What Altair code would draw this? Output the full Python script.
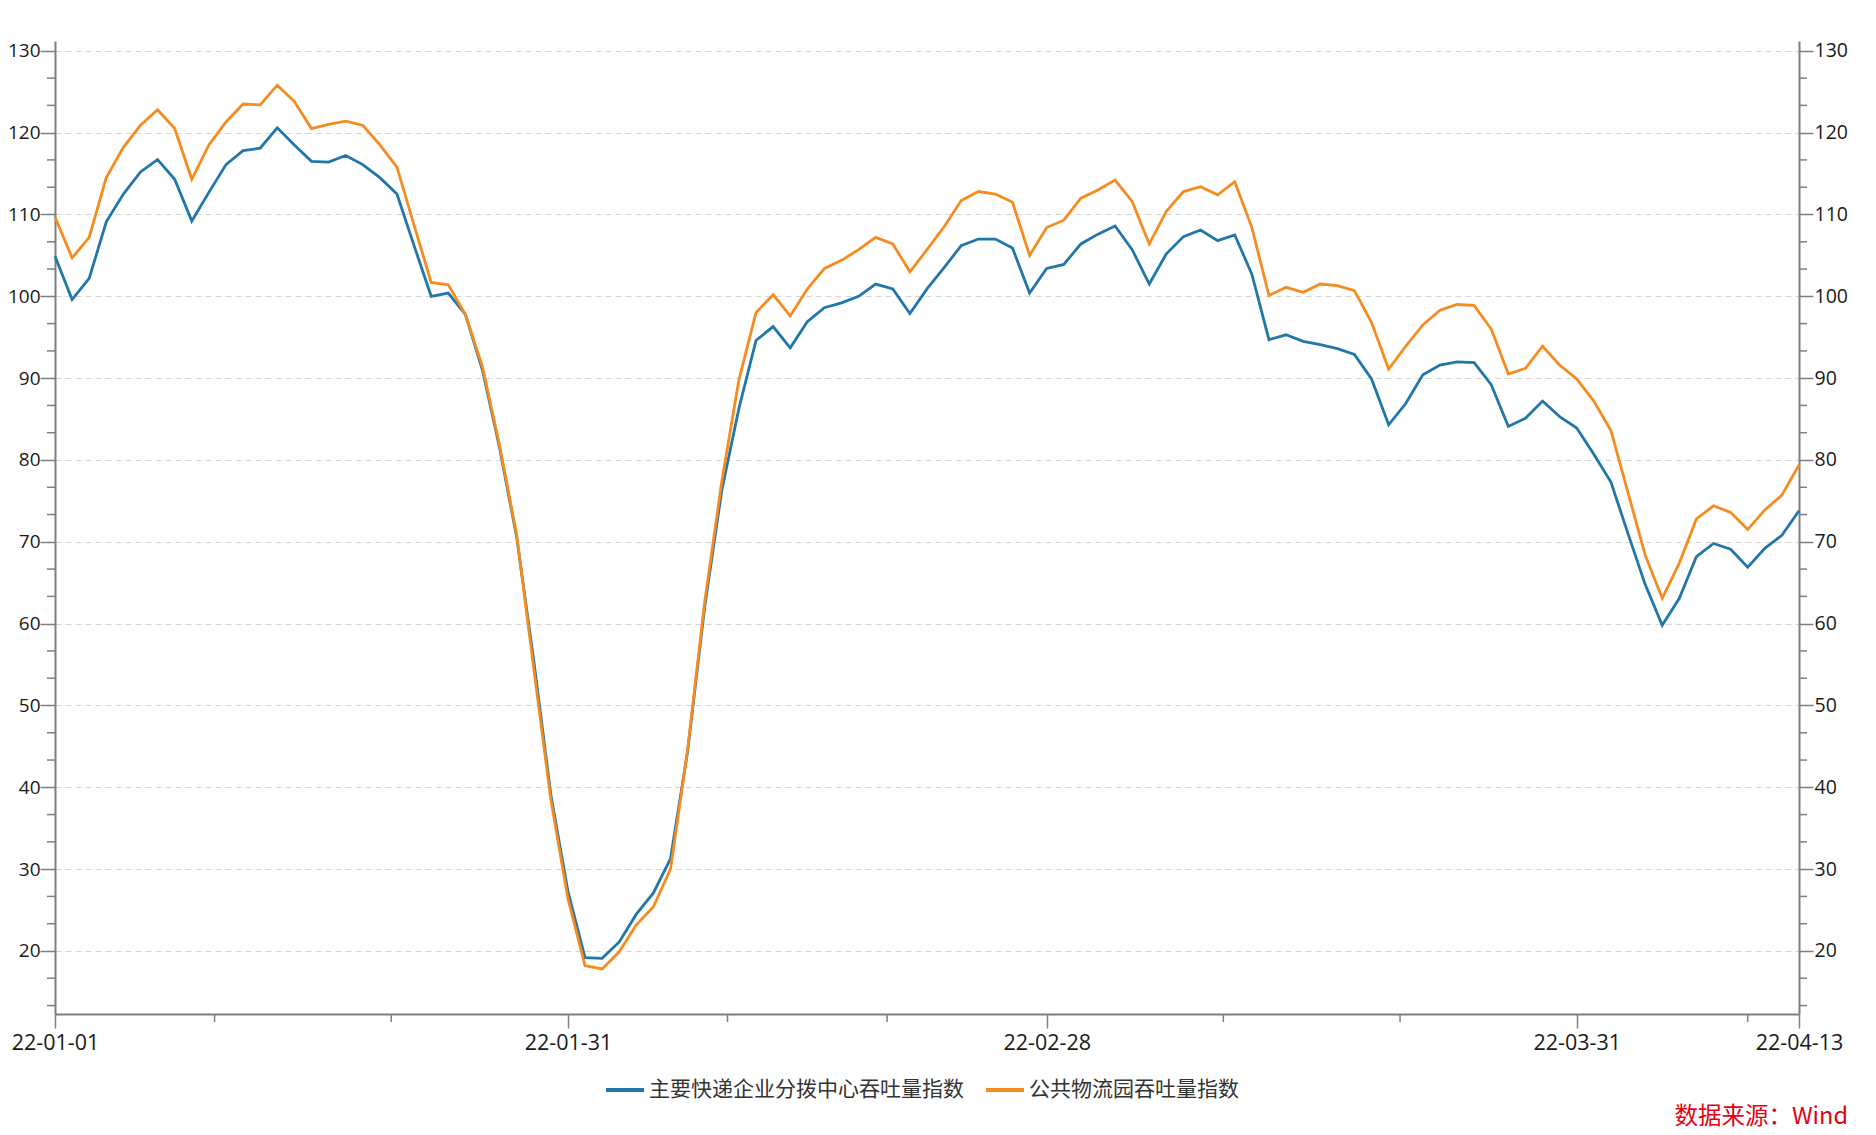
import altair as alt
import pandas as pd

# ---------------- data ----------------
dates = pd.date_range("2022-01-01", "2022-04-13", freq="D")
series_names = ["主要快递企业分拨中心吞吐量指数", "公共物流园吞吐量指数"]
series_colors = ["#2077a8", "#f68b1f"]

express_index = [
    104.9, 99.6, 102.2, 109.1, 112.5, 115.2, 116.7, 114.3, 109.2, 112.7,
    116.1, 117.8, 118.1, 120.6, 118.5, 116.5, 116.4, 117.2, 116.1, 114.5,
    112.5, 106.2, 100.0, 100.4, 97.8, 91.0, 81.5, 70.6, 55.5, 39.1,
    27.3, 19.2, 19.1, 21.1, 24.5, 27.1, 31.3, 44.4, 62.1, 76.3,
    86.3, 94.6, 96.3, 93.7, 96.9, 98.6, 99.2, 100.0, 101.5, 100.9,
    97.9, 100.9, 103.5, 106.2, 107.0, 107.0, 105.9, 100.4, 103.4, 103.9,
    106.4, 107.6, 108.6, 105.7, 101.5, 105.2, 107.3, 108.1, 106.8, 107.5,
    102.7, 94.7, 95.3, 94.5, 94.1, 93.6, 92.9, 89.9, 84.3, 86.9,
    90.4, 91.6, 92.0, 91.9, 89.2, 84.1, 85.1, 87.2, 85.3, 83.9,
    80.7, 77.3, 71.0, 64.8, 59.8, 63.1, 68.2, 69.8, 69.1, 66.9,
    69.2, 70.8, 73.8,
]
park_index = [
    109.7, 104.7, 107.2, 114.5, 118.2, 120.9, 122.8, 120.5, 114.3, 118.5,
    121.3, 123.5, 123.4, 125.8, 123.8, 120.5, 121.0, 121.4, 120.9, 118.5,
    115.8, 108.7, 101.7, 101.4, 97.8, 91.4, 81.8, 70.9, 54.5, 38.5,
    26.4, 18.2, 17.8, 19.9, 23.2, 25.4, 30.0, 44.6, 62.7, 77.4,
    89.8, 98.0, 100.2, 97.6, 100.9, 103.4, 104.4, 105.7, 107.2, 106.4,
    103.0, 105.7, 108.5, 111.7, 112.8, 112.5, 111.5, 105.0, 108.4, 109.3,
    112.0, 113.0, 114.2, 111.6, 106.4, 110.4, 112.8, 113.4, 112.4, 114.0,
    108.4, 100.1, 101.1, 100.5, 101.5, 101.3, 100.7, 96.8, 91.1, 93.9,
    96.5, 98.3, 99.0, 98.9, 96.0, 90.5, 91.2, 93.9, 91.6, 89.9,
    87.2, 83.6, 76.0, 68.4, 63.1, 67.4, 72.8, 74.4, 73.6, 71.5,
    73.9, 75.7, 79.4,
]

x_label_days = [0, 30, 58, 89, 102]
x_label_texts = ["22-01-01", "22-01-31", "22-02-28", "22-03-31", "22-04-13"]
x_minor_days = [9.333, 19.667, 39.333, 48.667, 68.333, 78.667, 99.0]
y_major = [20, 30, 40, 50, 60, 70, 80, 90, 100, 110, 120, 130]
y_minor = [13.333, 16.667] + [round(v + d, 3) for v in y_major[:-1] for d in (3.333, 6.667)]
source_text = "数据来源：Wind"

# ---------------- layout ----------------
W, H = 1744, 973
AX = "#7f7f7f"
LBL = "#1a1a1a"
NUM_FONT = "Open Sans"
CJK_FONT = "Noto Sans CJK SC"

day_index = [(d - dates[0]).days for d in dates]
df = pd.DataFrame({
    "day": day_index * 2,
    "value": express_index + park_index,
    "series": [series_names[0]] * len(day_index) + [series_names[1]] * len(day_index),
})

label_expr = "".join(
    f"datum.value == {d} ? '{t}' : " for d, t in zip(x_label_days, x_label_texts)
) + "''"

xscale = alt.Scale(domain=[0, 102], nice=False, zero=False)
yscale = alt.Scale(domain=[12.3, 131.2], nice=False, zero=False)

x_axis = alt.Axis(
    values=x_label_days, labelExpr=label_expr, tickSize=14, labelPadding=4,
    grid=False, labelFont=NUM_FONT, labelFontSize=21.5, labelColor=LBL,
    domainColor=AX, domainWidth=2, tickColor=AX, tickWidth=1.5,
    labelFlush=False, labelOverlap=False, labelBound=False,
)
left_axis = alt.Axis(
    orient="left", values=y_major, format="d", tickSize=15, labelPadding=0,
    grid=True, gridDash=[6, 4], gridColor="#d6d6d6", gridWidth=1,
    labelFont=NUM_FONT, labelFontSize=19, labelColor=LBL,
    domainColor=AX, domainWidth=2, tickColor=AX, tickWidth=1.5,
    labelOverlap=False,
)
right_axis = alt.Axis(
    orient="right", values=y_major, format="d", tickSize=14, labelPadding=1,
    grid=False, labelFont=NUM_FONT, labelFontSize=19.5, labelColor=LBL,
    domainColor=AX, domainWidth=2, tickColor=AX, tickWidth=1.5,
    labelOverlap=False,
)

lines = alt.Chart(df).mark_line(strokeWidth=2.8).encode(
    x=alt.X("day:Q", scale=xscale, axis=x_axis, title=None),
    y=alt.Y("value:Q", scale=yscale, axis=left_axis, title=None),
    color=alt.Color(
        "series:N",
        scale=alt.Scale(domain=series_names, range=series_colors),
        sort=series_names,
        legend=alt.Legend(
            orient="none", legendX=549, legendY=1028, direction="horizontal",
            title=None, symbolType="stroke", symbolStrokeWidth=4, symbolSize=1444,
            labelFont=CJK_FONT, labelFontSize=21, labelColor="#333333",
            labelOffset=3, columnPadding=14, labelLimit=0,
        ),
    ),
)

ymin_df = pd.DataFrame({"v": y_minor})
right_minor = alt.Chart(ymin_df).mark_rule(color=AX, strokeWidth=1.5).encode(
    y=alt.Y("v:Q", scale=yscale, axis=right_axis, title=None),
    x=alt.value(W), x2=alt.value(W + 8),
)
left_minor = alt.Chart(ymin_df).mark_rule(color=AX, strokeWidth=1.5).encode(
    y=alt.Y("v:Q", scale=yscale, axis=None),
    x=alt.value(-8), x2=alt.value(0),
)
x_minor = alt.Chart(pd.DataFrame({"day": x_minor_days})).mark_rule(color=AX, strokeWidth=1.5).encode(
    x=alt.X("day:Q", scale=xscale, axis=x_axis, title=None),
    y=alt.value(H), y2=alt.value(H + 8),
)
source = alt.Chart(pd.DataFrame({"t": [source_text]})).mark_text(
    align="right", baseline="middle", font=CJK_FONT, fontSize=23.5, color="#e60012",
).encode(
    x=alt.value(1793), y=alt.value(1076), text="t:N",
)

chart = alt.layer(lines, right_minor, left_minor, x_minor, source).resolve_axis(
    y="independent"
).properties(
    width=W, height=H,
    padding={"left": 47, "top": 33, "right": 50, "bottom": 116},
    autosize=alt.AutoSizeParams(type="none"),
).configure_view(stroke="transparent")

chart.save("out.html", embed_options={"renderer": "svg", "actions": False})
